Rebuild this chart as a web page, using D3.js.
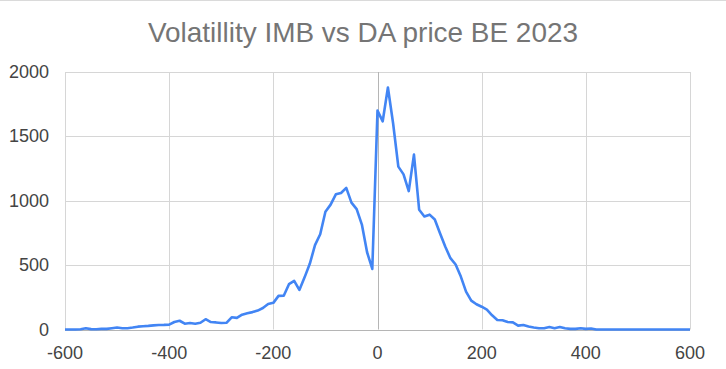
<!DOCTYPE html>
<html>
<head>
<meta charset="utf-8">
<script src="https://cdn.jsdelivr.net/npm/d3@7"></script>
<style>
  body { margin: 0; background: #fff; }
  svg { display: block; font-family: "Liberation Sans", Arial, sans-serif; }
</style>
</head>
<body>
<div id="chart"></div>
<script>
// Chart data: imbalance minus day-ahead price difference (EUR/MWh) and count of quarter-hours
let priceDiff = [
  -600, -590, -580, -570, -560, -550, -540, -530, -520, -510,
  -500, -490, -480, -470, -460, -450, -440, -430, -420, -410,
  -400, -390, -380, -370, -360, -350, -340, -330, -320, -310,
  -300, -290, -280, -270, -260, -250, -240, -230, -220, -210,
  -200, -190, -180, -170, -160, -150, -140, -130, -120, -110,
  -100, -90, -80, -70, -60, -50, -40, -30, -20, -10,
  0, 10, 20, 30, 40, 50, 60, 70, 80, 90,
  100, 110, 120, 130, 140, 150, 160, 170, 180, 190,
  200, 210, 220, 230, 240, 250, 260, 270, 280, 290,
  300, 310, 320, 330, 340, 350, 360, 370, 380, 390,
  400, 410, 420, 430, 440, 450, 460, 470, 480, 490,
  500, 510, 520, 530, 540, 550, 560, 570, 580, 590,
  600
];
let counts = [
  0, 0, 0, 2, 10, 3, 2, 5, 5, 10,
  15, 10, 10, 15, 22, 25, 28, 32, 35, 36,
  38, 58, 68, 45, 50, 45, 52, 80, 58, 55,
  50, 52, 95, 90, 115, 126, 135, 147, 167, 198,
  207, 261, 262, 352, 377, 307, 405, 510, 655, 740,
  915, 970, 1050, 1060, 1100, 985, 935, 815, 600, 470,
  1700, 1617, 1880, 1600, 1265, 1205, 1075, 1358, 930, 878,
  892, 855, 748, 644, 554, 505, 411, 294, 224, 196,
  177, 155, 110, 74, 72, 58, 55, 30, 35, 23,
  16, 10, 10, 19, 10, 19, 10, 5, 5, 10,
  5, 8, 0, 0, 0, 0, 0, 0, 0, 0,
  0, 0, 0, 0, 0, 0, 0, 0, 0, 0,
  0
];
let xTicks = [-600, -400, -200, 0, 200, 400, 600];
let yTicks = [0, 500, 1000, 1500, 2000];
let chartTitle = "Volatillity IMB vs DA price BE 2023";

let width = 726, height = 369;
let margin = {top: 72, right: 36, bottom: 39.5, left: 65};

let svg = d3.select("#chart").append("svg")
    .attr("width", width)
    .attr("height", height);

// thin border line at the very top
svg.append("line")
    .attr("x1", 0).attr("x2", width)
    .attr("y1", 0.5).attr("y2", 0.5)
    .attr("stroke", "#dadada");

let x = d3.scaleLinear().domain([-600, 600]).range([margin.left, width - margin.right]);
let y = d3.scaleLinear().domain([0, 2000]).range([height - margin.bottom, margin.top]);

// Title
svg.append("text")
    .attr("x", 363)
    .attr("y", 42)
    .attr("text-anchor", "middle")
    .attr("fill", "#757575")
    .attr("font-size", 28)
    .attr("textLength", 430)
    .attr("lengthAdjust", "spacingAndGlyphs")
    .text(chartTitle);

// Gridlines
let grid = svg.append("g");
grid.selectAll(".hgrid")
    .data(yTicks.filter(d => d !== 0))
    .enter().append("line")
    .attr("x1", x(-600)).attr("x2", x(600))
    .attr("y1", d => Math.round(y(d)) + 0.5).attr("y2", d => Math.round(y(d)) + 0.5)
    .attr("stroke", "#d6d6d6");
grid.selectAll(".vgrid")
    .data(xTicks.filter(d => d !== 0))
    .enter().append("line")
    .attr("x1", d => Math.round(x(d)) + 0.5).attr("x2", d => Math.round(x(d)) + 0.5)
    .attr("y1", y(2000)).attr("y2", y(0))
    .attr("stroke", "#d6d6d6");

// Zero lines (darker)
svg.append("line")
    .attr("x1", Math.round(x(0)) + 0.5).attr("x2", Math.round(x(0)) + 0.5)
    .attr("y1", y(2000)).attr("y2", y(0))
    .attr("stroke", "#b5b5b5");
svg.append("line")
    .attr("x1", x(-600)).attr("x2", x(600))
    .attr("y1", Math.round(y(0)) + 0.5).attr("y2", Math.round(y(0)) + 0.5)
    .attr("stroke", "#b5b5b5");

// Axis labels
svg.append("g").selectAll("text")
    .data(yTicks)
    .enter().append("text")
    .attr("x", 49)
    .attr("y", d => y(d) + 6)
    .attr("text-anchor", "end")
    .attr("fill", "#444")
    .attr("font-size", 18)
    .text(d => d);

svg.append("g").selectAll("text")
    .data(xTicks)
    .enter().append("text")
    .attr("x", d => x(d))
    .attr("y", 359)
    .attr("text-anchor", "middle")
    .attr("fill", "#444")
    .attr("font-size", 18)
    .text(d => d);

// The line
let points = priceDiff.map((p, i) => [p, counts[i]]);
svg.append("path")
    .datum(points)
    .attr("fill", "none")
    .attr("stroke", "#4285f4")
    .attr("stroke-width", 2.6)
    .attr("stroke-linejoin", "round")
    .attr("d", d3.line().x(d => x(d[0])).y(d => y(d[1])));
</script>
</body>
</html>
